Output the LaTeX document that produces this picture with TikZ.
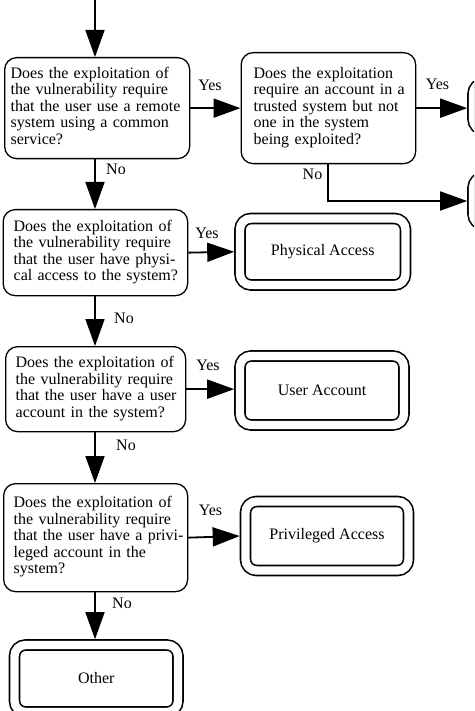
\documentclass[tikz,border=0pt]{standalone}
\usepackage{fontspec}
\setmainfont{Liberation Serif}
\usetikzlibrary{arrows.meta}
\newcommand\qfont{\fontsize{16}{16.5}\selectfont}
\newcommand\qlines[1]{\begin{tabular}{@{}l@{}}#1\end{tabular}}
\begin{document}
\begin{tikzpicture}[x=1pt,y=-1pt,
 qbox/.style={draw, line width=1.3pt, rounded corners=12pt, align=left, anchor=north west, font=\qfont, inner ysep=0pt, outer sep=0.65pt},
 rbox/.style={draw, line width=1.6pt, double, double distance=8.4pt, rounded corners=11pt, font=\qfont, inner sep=0pt, outer sep=5.8pt},
 conn/.style={line width=1.8pt, -{Triangle[length=27pt,width=19pt]}},
 lbl/.style={font=\qfont, anchor=base, inner sep=0pt}]
\useasboundingbox (0,0) rectangle (474,711);
\fill[white] (0,0) rectangle (474,711);
\begin{scope}
\clip (0,0) rectangle (474,711);
% question boxes
\node[qbox, minimum width=185pt, minimum height=101pt, text width=173pt, inner xsep=6pt] (b1) at (4,57)
 {\qlines{Does the exploitation of\\the vulnerability require\\that the user use a remote\\system using a common\\service?}};
\node[qbox, minimum width=174.5pt, minimum height=111pt, text width=149.5pt, inner xsep=12.5pt] (b2) at (240.5,52)
 {\qlines{Does the exploitation\\require an account in a\\trusted system but not\\one in the system\\being exploited?}};
\node[qbox, minimum width=184.5pt, minimum height=86pt, text width=163.5pt, inner xsep=10.5pt] (b3) at (2.5,209)
 {\qlines{Does the exploitation of\\the vulnerability require\\that the user have physi-\\cal access to the system?}};
\node[qbox, minimum width=180pt, minimum height=85pt, text width=160pt, inner xsep=10pt] (b4) at (5,346)
 {\qlines{Does the exploitation of\\the vulnerability require\\that the user have a user\\account in the system?}};
\node[qbox, minimum width=184pt, minimum height=108pt, text width=164pt, inner xsep=10pt] (b5) at (3,483)
 {\qlines{Does the exploitation of\\the vulnerability require\\that the user have a privi-\\leged account in the\\system?}};
% result boxes
\node[rbox, minimum width=165.5pt, minimum height=66.5pt] (phys) at (322.75,251.75) {Physical Access};
\node[rbox, minimum width=164pt, minimum height=69pt] (user) at (322,390.5) {User Account};
\node[rbox, minimum width=163pt, minimum height=69pt] (priv) at (327,536) {Privileged Access};
\node[rbox, minimum width=163.5pt, minimum height=67pt] (other) at (96.25,678.5) {Other};
\node[rbox, minimum width=100pt, minimum height=47pt] (rt1) at (523,106.5) {};
\node[rbox, minimum width=100pt, minimum height=48pt] (rt2) at (523,201) {};
% connectors
\coordinate (top) at (95,0);
\coordinate (c2) at (328,0);
\draw[conn] (top) -- (top |- b1.north);
\draw[conn] (b1.east) -- (b2.west);
\draw[conn] (b2.east) -- (b2.east -| rt1.west);
\draw[conn, rounded corners=0pt] (c2 |- b2.south) |- (rt2.west);
\draw[conn] (top |- b1.south) -- (top |- b3.north);
\draw[conn] (b3.east) -- (phys.west);
\draw[conn] (top |- b3.south) -- (top |- b4.north);
\draw[conn] (b4.east) -- (b4.east -| user.west);
\draw[conn] (top |- b4.south) -- (top |- b5.north);
\draw[conn] (b5.east) -- (priv.west);
\draw[conn] (top |- b5.south) -- (top |- other.north);
% labels
\node[lbl] (y1) at (210,91) {Yes};
\node[lbl] (y2) at (437.5,89.5) {Yes};
\node[lbl] (n1) at (116,175) {No};
\node[lbl] (n2) at (312.5,180) {No};
\node[lbl] (y3) at (207,238) {Yes};
\node[lbl] (n3) at (124,323) {No};
\node[lbl] (y4) at (208,370) {Yes};
\node[lbl] (n4) at (126,450) {No};
\node[lbl] (y5) at (210.5,515) {Yes};
\node[lbl] (n5) at (122,608) {No};
\end{scope}
\end{tikzpicture}
\end{document}
